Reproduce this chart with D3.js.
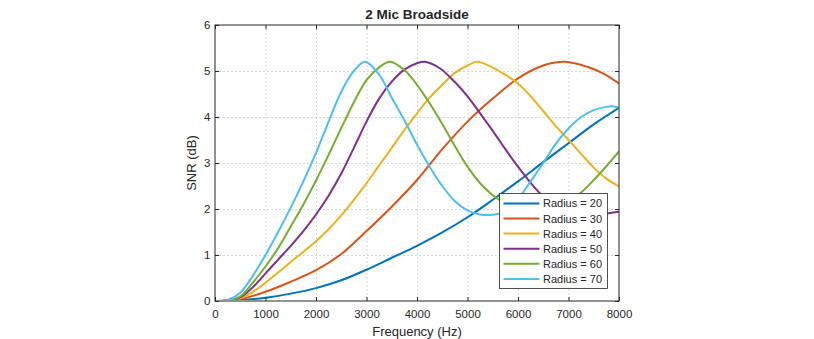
<!DOCTYPE html>
<html>
<head>
<meta charset="utf-8">
<script src="https://cdn.jsdelivr.net/npm/d3@7"></script>
<style>
  html, body { margin: 0; padding: 0; background: #ffffff; }
  svg { display: block; }
  text { font-family: "Liberation Sans", Arial, Helvetica, sans-serif; fill: #262626; }
</style>
</head>
<body>
<svg id="chart" width="814" height="339"></svg>
<script>
// ---- data ----
const titleText = "2 Mic Broadside";
const xLabel = "Frequency (Hz)";
const yLabel = "SNR (dB)";
const xTicks = [0, 1000, 2000, 3000, 4000, 5000, 6000, 7000, 8000];
const yTicks = [0, 1, 2, 3, 4, 5, 6];
const seriesNames = ["Radius = 20", "Radius = 30", "Radius = 40", "Radius = 50", "Radius = 60", "Radius = 70"];
const seriesColors = ["#0072BD", "#D95319", "#EDB120", "#7E2F8E", "#77AC30", "#4DBEEE"];

// [frequency Hz, SNR dB]
const radius20 = [[0,0],[500,0.02],[1000,0.07],[1500,0.16],[2000,0.28],[2500,0.45],[3000,0.68],[3500,0.94],[4000,1.2],[4500,1.49],[5000,1.82],[5500,2.2],[6000,2.6],[6500,3.02],[7000,3.43],[7500,3.84],[8000,4.2]];
const radius30 = [[0,0],[250,0.005],[500,0.04],[1000,0.2],[1500,0.42],[2000,0.67],[2500,1.02],[3000,1.52],[3500,2.05],[4000,2.63],[4500,3.3],[5000,3.9],[5500,4.4],[6000,4.84],[6500,5.12],[6930,5.2],[7400,5.08],[7700,4.94],[8000,4.73]];
const radius40 = [[0,0],[250,0.01],[500,0.06],[750,0.2],[1000,0.4],[1250,0.62],[1500,0.85],[1750,1.07],[2000,1.3],[2250,1.56],[2500,1.86],[2750,2.2],[3000,2.56],[3250,2.95],[3500,3.33],[3750,3.72],[4000,4.08],[4250,4.42],[4500,4.7],[4750,4.96],[5000,5.12],[5190,5.2],[5450,5.1],[5700,4.95],[6000,4.73],[6250,4.45],[6500,4.13],[6750,3.8],[7000,3.5],[7250,3.2],[7500,2.9],[7750,2.66],[8000,2.49]];
const radius50 = [[0,0],[250,0.01],[500,0.08],[750,0.3],[1000,0.6],[1250,0.9],[1500,1.2],[1750,1.52],[2000,1.88],[2250,2.29],[2500,2.77],[2750,3.33],[3000,3.9],[3250,4.4],[3500,4.77],[3750,5.03],[4000,5.17],[4155,5.2],[4450,5.06],[4750,4.76],[5000,4.45],[5250,4.08],[5500,3.7],[5750,3.3],[6000,2.92],[6250,2.57],[6500,2.27],[6750,2.05],[7000,1.94],[7300,1.89],[7550,1.89],[7800,1.91],[8000,1.94]];
const radius60 = [[0,0],[250,0.01],[500,0.1],[750,0.4],[1000,0.75],[1250,1.15],[1500,1.62],[1750,2.1],[2000,2.62],[2250,3.18],[2500,3.76],[2750,4.32],[3000,4.8],[3250,5.08],[3465,5.2],[3750,5.02],[4000,4.7],[4250,4.3],[4500,3.85],[4750,3.37],[5000,2.92],[5250,2.56],[5500,2.3],[5750,2.12],[6000,1.98],[6350,1.88],[6700,1.98],[7000,2.15],[7250,2.36],[7500,2.63],[7750,2.93],[8000,3.25]];
const radius70 = [[0,0],[250,0.02],[500,0.18],[750,0.55],[1000,1.0],[1250,1.5],[1500,2.03],[1750,2.6],[2000,3.22],[2250,3.9],[2500,4.55],[2750,5.0],[2970,5.2],[3250,4.92],[3500,4.42],[3750,3.93],[4000,3.4],[4250,2.92],[4500,2.5],[4750,2.17],[5000,1.97],[5250,1.88],[5450,1.87],[5600,1.89],[5750,1.96],[6000,2.22],[6250,2.6],[6500,3.0],[6750,3.42],[7000,3.75],[7250,4.0],[7500,4.15],[7750,4.22],[7900,4.23],[8000,4.2]];
const seriesData = [radius20, radius30, radius40, radius50, radius60, radius70];

// ---- layout ----
const svg = d3.select("#chart");
const L = 215, R = 619, T = 25, B = 301;
const x = d3.scaleLinear().domain([0, 8000]).range([L, R]);
const y = d3.scaleLinear().domain([0, 6]).range([B, T]);
const axisColor = "#262626";
const font = '"Liberation Sans", Arial, Helvetica, sans-serif';

svg.append("rect").attr("x", L).attr("y", T).attr("width", R - L).attr("height", B - T).attr("fill", "#ffffff");

// grid
const grid = svg.append("g").attr("stroke", "#c4c4c4").attr("stroke-width", 0.7).attr("stroke-dasharray", "2,2");
grid.selectAll("line.vx").data(xTicks.slice(1, -1)).join("line")
  .attr("x1", d => x(d) + 0.5).attr("x2", d => x(d) + 0.5).attr("y1", T).attr("y2", B);
grid.selectAll("line.hy").data(yTicks.slice(1, -1)).join("line")
  .attr("y1", d => Math.round(y(d)) + 0.5).attr("y2", d => Math.round(y(d)) + 0.5).attr("x1", L).attr("x2", R);

svg.append("clipPath").attr("id", "clip").append("rect")
  .attr("x", L).attr("y", T - 2).attr("width", R - L).attr("height", B - T + 1);

// lines
const line = d3.line().x(d => x(d[0])).y(d => y(Math.max(0, d[1]))).curve(d3.curveCatmullRom.alpha(0.5));
svg.append("g").attr("clip-path", "url(#clip)")
  .selectAll("path").data(seriesData).join("path")
  .attr("d", line)
  .attr("fill", "none")
  .attr("stroke", (d, i) => seriesColors[i])
  .attr("stroke-width", 2)
  .attr("stroke-linejoin", "round");

// axes
function styleAxis(g, showLabels) {
  g.select(".domain").remove();
  g.selectAll(".tick line").attr("stroke", axisColor).attr("stroke-width", 1);
  g.selectAll(".tick text").attr("fill", axisColor).style("font-family", font).style("font-size", "11.5px");
  if (!showLabels) g.selectAll(".tick text").remove();
}
svg.append("g").attr("transform", `translate(0,${B})`)
  .call(d3.axisBottom(x).tickValues(xTicks).tickFormat(d3.format("d")).tickSizeInner(-4).tickSizeOuter(0).tickPadding(8.5))
  .call(g => styleAxis(g, true));
svg.append("g").attr("transform", `translate(0,${T})`)
  .call(d3.axisTop(x).tickValues(xTicks).tickSizeInner(-4).tickSizeOuter(0))
  .call(g => styleAxis(g, false));
svg.append("g").attr("transform", `translate(${L},0)`)
  .call(d3.axisLeft(y).tickValues(yTicks).tickFormat(d3.format("d")).tickSizeInner(-4).tickSizeOuter(0).tickPadding(4.5))
  .call(g => styleAxis(g, true));
svg.append("g").attr("transform", `translate(${R},0)`)
  .call(d3.axisRight(y).tickValues(yTicks).tickSizeInner(-4).tickSizeOuter(0))
  .call(g => styleAxis(g, false));

svg.append("rect").attr("x", L).attr("y", T).attr("width", R - L).attr("height", B - T)
  .attr("fill", "none").attr("stroke", axisColor).attr("stroke-width", 1);

// title and labels
svg.append("text").attr("x", (L + R) / 2).attr("y", 19.3).attr("text-anchor", "middle")
  .style("font-size", "13.5px").style("font-weight", "bold").attr("fill", "#000").text(titleText);
svg.append("text").attr("x", (L + R) / 2).attr("y", 335.5).attr("text-anchor", "middle")
  .style("font-size", "13px").text(xLabel);
svg.append("text").attr("transform", `translate(196.3,${(T + B) / 2}) rotate(-90)`).attr("text-anchor", "middle")
  .style("font-size", "13px").text(yLabel);

// legend
const lg = svg.append("g");
lg.append("rect").attr("x", 499.5).attr("y", 193.5).attr("width", 108).attr("height", 95)
  .attr("fill", "#ffffff").attr("stroke", axisColor).attr("stroke-width", 0.8);
const entries = lg.selectAll("g.entry").data(seriesNames).join("g")
  .attr("transform", (d, i) => `translate(0,${203.4 + i * 15.1})`);
entries.append("line").attr("x1", 503.5).attr("x2", 539.5).attr("y1", 0).attr("y2", 0)
  .attr("stroke", (d, i) => seriesColors[i]).attr("stroke-width", 2);
entries.append("text").attr("x", 543).attr("y", 0).attr("dominant-baseline", "central")
  .style("font-size", "11px").attr("fill", "#000").text(d => d);
</script>
</body>
</html>
